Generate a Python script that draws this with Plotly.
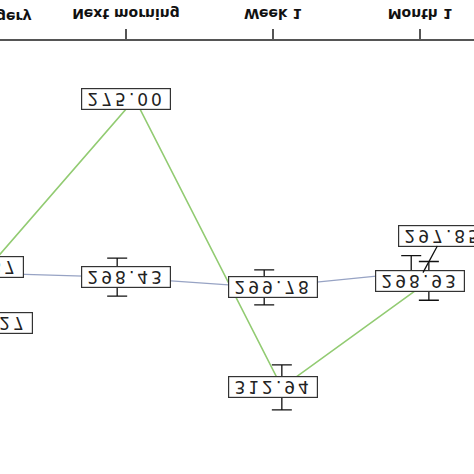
import numpy as np
import plotly.graph_objects as go

# values (the reference is a top-bottom mirrored image)
categories = ["After surgery", "Next morning", "Week 1", "Month 1"]
blue_mean = [297.87, 298.43, 299.78, 297.85]
blue_se = [2.40, 2.50, 2.30, 2.25]
green_mean = [297.27, 275.00, 312.94, 298.93]
green_se = [2.60, 0.00, 2.95, 2.55]

dodge = 0.06
x_range = [0.143, 3.367]
y_range = [267.37, 324.34]
idx = np.arange(len(categories))

def to_paper(xv):
    return (xv - x_range[0]) / (x_range[1] - x_range[0])

fig = go.Figure()
fig.add_trace(go.Scatter(
    x=idx - dodge, y=blue_mean, mode="lines",
    line=dict(color="#97a3c4", width=1.2),
    error_y=dict(type="data", array=blue_se, color="#111111", thickness=1.3, width=10),
    showlegend=False,
))
fig.add_trace(go.Scatter(
    x=idx + dodge, y=green_mean, mode="lines",
    line=dict(color="#92cb72", width=1.6),
    error_y=dict(type="data", array=green_se, color="#111111", thickness=1.3, width=10),
    showlegend=False,
))

label_font = dict(family="DejaVu Sans", size=17, color="#222222")
box = dict(bgcolor="white", bordercolor="#333333", borderwidth=1.2, borderpad=0,
           width=88, height=20, font=label_font, xanchor="center", yanchor="middle")
axis_font = dict(family="DejaVu Sans", size=14, color="#111111", weight="bold")

def fmt(v):
    return "<span style='letter-spacing:3px'>%.2f</span>" % v

# labels for the visible categories, centred on the tick
for i in range(1, len(categories)):
    fig.add_annotation(x=i, y=green_mean[i], text=fmt(green_mean[i]), showarrow=False, **box)
    if i < 3:
        fig.add_annotation(x=i, y=blue_mean[i], text=fmt(blue_mean[i]), showarrow=False, **box)

# month 1 blue label pulled aside with a leader line
fig.add_annotation(x=3.02, y=blue_mean[3], text=fmt(blue_mean[3]), showarrow=True,
                   arrowhead=0, arrowwidth=1.3, arrowcolor="#111111", ax=20, ay=37, **box)

# first category sits left of the visible range
fig.add_annotation(xref="paper", x=to_paper(0), y=blue_mean[0], yshift=-6,
                   text=fmt(blue_mean[0]), showarrow=False, **box)
fig.add_annotation(xref="paper", x=to_paper(dodge), y=green_mean[0], yshift=55,
                   text=fmt(green_mean[0]), showarrow=False, **box)
fig.add_annotation(xref="paper", x=to_paper(0), xanchor="center", yref="paper", y=0,
                   yanchor="top", yshift=-14, text=categories[0], showarrow=False,
                   font=axis_font)

fig.update_layout(
    width=474, height=474,
    margin=dict(l=0, r=0, t=0, b=41),
    paper_bgcolor="white", plot_bgcolor="white",
    xaxis=dict(range=x_range, tickvals=idx[1:], ticktext=categories[1:],
               showgrid=False, zeroline=False, showline=True, linecolor="#555555", linewidth=1.5,
               ticks="outside", ticklen=10, tickwidth=1.5, tickcolor="#555555",
               ticklabelstandoff=3, tickfont=axis_font),
    yaxis=dict(range=y_range, visible=False, showgrid=False, zeroline=False),
)

flip = """
document.body.style.margin = '0';
var gd = document.getElementById('{plot_id}');
gd.style.transform = 'scaleY(-1)';
"""
fig.write_html("out.html", post_script=flip, config={"displayModeBar": False})
